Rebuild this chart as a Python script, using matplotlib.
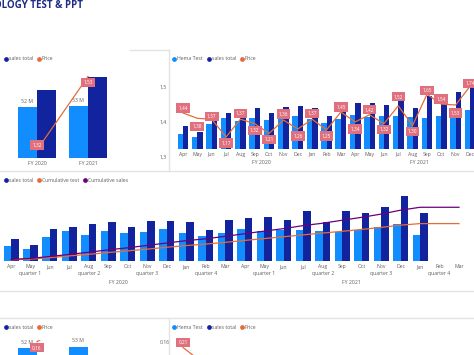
import matplotlib
matplotlib.use('Agg')
import matplotlib.pyplot as plt
from matplotlib.lines import Line2D
import numpy as np
import pandas as pd

W, H = 474, 355

months = ['Apr', 'May', 'Jun', 'Jul', 'Aug', 'Sep', 'Oct', 'Nov', 'Dec', 'Jan', 'Feb', 'Mar'] * 2
fiscal = ['FY 2020'] * 12 + ['FY 2021'] * 12
quarters = (['quarter 1'] * 3 + ['quarter 2'] * 3 + ['quarter 3'] * 3 + ['quarter 4'] * 3) * 2

# monthly values in M, Apr 2020 .. Jan 2022
hema_test = [2.52, 1.96, 4.12, 5.04, 4.46, 5.04, 4.70, 4.92, 5.39, 4.80, 4.24, 4.80,
             5.49, 5.15, 5.27, 5.27, 5.15, 4.97, 5.27, 5.83, 6.29, 4.41]
sales_total = [3.77, 2.74, 5.49, 5.83, 6.24, 6.69, 5.83, 6.76, 6.86, 6.59, 5.27, 6.98,
               7.37, 7.44, 7.03, 8.58, 6.69, 8.47, 8.23, 9.16, 11.10, 8.23]
price = [1.44, 1.38, 1.37, 1.17, 1.37, 1.32, 1.21, 1.36, 1.26, 1.37, 1.25, 1.45,
         1.34, 1.42, 1.32, 1.52, 1.30, 1.65, 1.54, 1.53, 1.74, 1.83]
fy_price = [1.32, 1.53]

# filtered copy at the bottom
fy_hema_low = [52, 53]
fy_price_low = [0.16, 0.22]
price_low = [0.21, 0.18]

LIGHT = '#118DFF'
DARK = '#12239E'
ORANGE = '#E66C37'
PURPLE = '#6B007B'
LABEL_BG = '#E0707E'
GREY = '#605E5C'
LINE = '#E3E3E3'

plt.rcParams['font.family'] = ['Open Sans', 'DejaVu Sans']
FS = 3.7

n = len(hema_test)
df = pd.DataFrame({'month': months[:n], 'fy': fiscal[:n],
                   'hema': hema_test, 'sales': sales_total, 'price': price[:n]})
fy_sum = df.groupby('fy')[['hema', 'sales']].sum()

fig = plt.figure(figsize=(W / 100, H / 100), dpi=100)


def px_axes(l, t, r, b):
    ax = fig.add_axes([l / W, 1 - b / H, (r - l) / W, (b - t) / H])
    for s in ax.spines.values():
        s.set_visible(False)
    ax.tick_params(length=0, labelsize=FS, colors=GREY)
    ax.set_yticks([])
    ax.patch.set_alpha(0)
    return ax


def twin(ax):
    t = ax.twinx()
    for s in t.spines.values():
        s.set_visible(False)
    t.tick_params(length=0, labelsize=FS, colors=GREY)
    t.set_yticks([])
    return t


def fig_line(x0, y0, x1, y1):
    fig.add_artist(Line2D([x0 / W, x1 / W], [1 - y0 / H, 1 - y1 / H], color=LINE, lw=1))


def price_label(ax, x, y, dy_px):
    ax.annotate(f'{y:.2f}'.replace('.', ','), (x, y), xytext=(0, dy_px * 0.72),
                textcoords='offset points', ha='center', va='center', fontsize=3.4,
                color='white', zorder=5,
                bbox=dict(boxstyle='square,pad=0.45', fc=LABEL_BG, ec='none'))


def legend(ax, names, colors, x_px, y_px):
    handles = [Line2D([], [], ls='', marker='o', ms=2.4, color=c) for c in colors]
    ax.legend(handles, names, loc='center left', bbox_to_anchor=(x_px / W, 1 - y_px / H),
              bbox_transform=fig.transFigure, ncol=len(names), frameon=False,
              fontsize=FS, handlelength=0.6, handletextpad=0.3, columnspacing=0.8,
              borderpad=0, labelcolor=GREY)


# title
fig.text(83 / W, 1 - 5.5 / H, 'HEMATOLOGY TEST & PPT', ha='right', va='center',
         fontsize=7.0, fontweight='bold', color='#1F2D86')

# frame lines
fig_line(130, 50, 169, 50)
fig_line(169, 50, 169, 171)
fig_line(0, 171, W, 171)
fig_line(0, 291, W, 291)
fig_line(0, 318, W, 318)
fig_line(169, 318, 169, H)

# ---- top left: totals per FY
ax1 = px_axes(0, 70, 157, 158)
xf = np.arange(len(fy_sum))
ax1.bar(xf - 0.19, fy_sum['hema'], 0.38, color=LIGHT)
ax1.bar(xf + 0.19, fy_sum['sales'], 0.38, color=DARK)
for xi, v in zip(xf, fy_sum['hema']):
    ax1.annotate(f'{v:.0f} M', (xi - 0.19, v), xytext=(0, 2.4), textcoords='offset points',
                 ha='center', va='bottom', fontsize=FS, color=GREY)
ax1.set_xlim(-0.725, 2.353)
ax1.set_ylim(0, 89.7)
ax1.set_xticks(xf, fy_sum.index)
ax1.tick_params(axis='x', pad=2)
ax1p = twin(ax1)
ax1p.plot(xf, fy_price, color=ORANGE, lw=0.9)
ax1p.set_ylim(1.297, 1.5486)
ax1p.set_yticks([1.3, 1.4, 1.5], ['1,3', '1,4', '1,5'])
ax1p.tick_params(axis='y', pad=2)
for xi, p, d in zip(xf, fy_price, [5, -6]):
    price_label(ax1p, xi, p, d)
legend(ax1, ['Hema Test', 'sales total', 'Price'], [LIGHT, DARK, ORANGE], -33, 59)

# ---- top right: monthly
ax2 = px_axes(170, 70, 500, 149.3)
xm = np.arange(n)
ax2.bar(xm - 0.1875, df['hema'], 0.375, color=LIGHT)
ax2.bar(xm + 0.1875, df['sales'], 0.375, color=DARK)
ax2.set_xlim(-0.906, 22.09)
ax2.set_ylim(0, 12.71)
ax2.set_xticks(xm, df['month'])
ax2.tick_params(axis='x', pad=1.6)
for name, grp in df.groupby('fy'):
    ax2.text(grp.index.values.mean(), -0.166, name, transform=ax2.get_xaxis_transform(),
             ha='center', va='center', fontsize=FS, color=GREY)
ax2p = twin(ax2)
ax2p.plot(xm, df['price'], color=ORANGE, lw=0.9)
ax2p.set_ylim(1.032, 1.923)
offsets = [5, -8, 3, -6, 6, -7, -6, 6, -7, 6, -6, 5, -7, 5, -6, 9, -6, 4, 5, -8, 3, 3]
for xi, p, d in zip(xm, df['price'], offsets):
    price_label(ax2p, xi, p, d)
legend(ax2, ['Hema Test', 'sales total', 'Price'], [LIGHT, DARK, ORANGE], 170, 59)

# ---- middle: monthly with cumulative lines
ax3 = px_axes(0, 190, W, 260.7)
ax3.bar(xm - 0.1925, df['hema'], 0.385, color=LIGHT)
ax3.bar(xm + 0.1925, df['sales'], 0.385, color=DARK)
ax3.set_xlim(-0.565, 23.77)
ax3.set_ylim(0, 12.13)
xa = np.arange(len(months))
ax3.set_xticks(xa, months)
ax3.tick_params(axis='x', pad=2.4)
for q in range(0, len(months), 3):
    ax3.text(q + 1, -0.179, quarters[q], transform=ax3.get_xaxis_transform(),
             ha='center', va='center', fontsize=FS, color=GREY)
for f in range(0, len(months), 12):
    ax3.text(f + 5.5, -0.311, fiscal[f], transform=ax3.get_xaxis_transform(),
             ha='center', va='center', fontsize=FS, color=GREY)
pad = [0] * (len(months) - n)
ax3p = twin(ax3)
ax3p.plot(xa, np.cumsum(hema_test + pad), color=ORANGE, lw=0.9)
ax3p.plot(xa, np.cumsum(sales_total + pad), color=PURPLE, lw=0.9)
ax3p.set_ylim(0, 200.3)
legend(ax3, ['Hema Test', 'sales total', 'Cumulative test', 'Cumulative sales'],
       [LIGHT, DARK, ORANGE, PURPLE], -33, 180)

# ---- bottom left (cut off)
ax4 = px_axes(0, 340, 157, 426)
ax4.bar(xf - 0.19, fy_hema_low, 0.38, color=LIGHT)
ax4.bar(xf + 0.19, [40, 44], 0.38, color=DARK)
for xi, v in zip(xf, fy_hema_low):
    ax4.annotate(f'{v} M', (xi - 0.19, v), xytext=(0, 2.4), textcoords='offset points',
                 ha='center', va='bottom', fontsize=FS, color=GREY)
ax4.set_xlim(-0.725, 2.353)
ax4.set_ylim(0, 57.5)
ax4.set_xticks([])
ax4p = twin(ax4)
ax4p.plot(xf, fy_price_low, color=ORANGE, lw=0.9)
ax4p.set_ylim(0.0, 0.1633)
ax4p.set_yticks([0.16], ['0,16'])
ax4p.tick_params(axis='y', pad=2)
price_label(ax4p, 0, fy_price_low[0], -6)
legend(ax4, ['Hema Test', 'sales total', 'Price'], [LIGHT, DARK, ORANGE], -33, 327.3)

# ---- bottom right (cut off)
ax5 = px_axes(170, 340, 500, 426)
ax5.set_xlim(-0.906, 22.09)
ax5.set_xticks([])
ax5p = twin(ax5)
ax5p.plot([0, 1], price_low, color=ORANGE, lw=0.9)
ax5p.set_ylim(0.0, 0.23)
price_label(ax5p, 0, price_low[0], 5)
legend(ax5, ['Hema Test', 'sales total', 'Price'], [LIGHT, DARK, ORANGE], 170, 327.3)

fig.savefig('out.png', dpi=100)
